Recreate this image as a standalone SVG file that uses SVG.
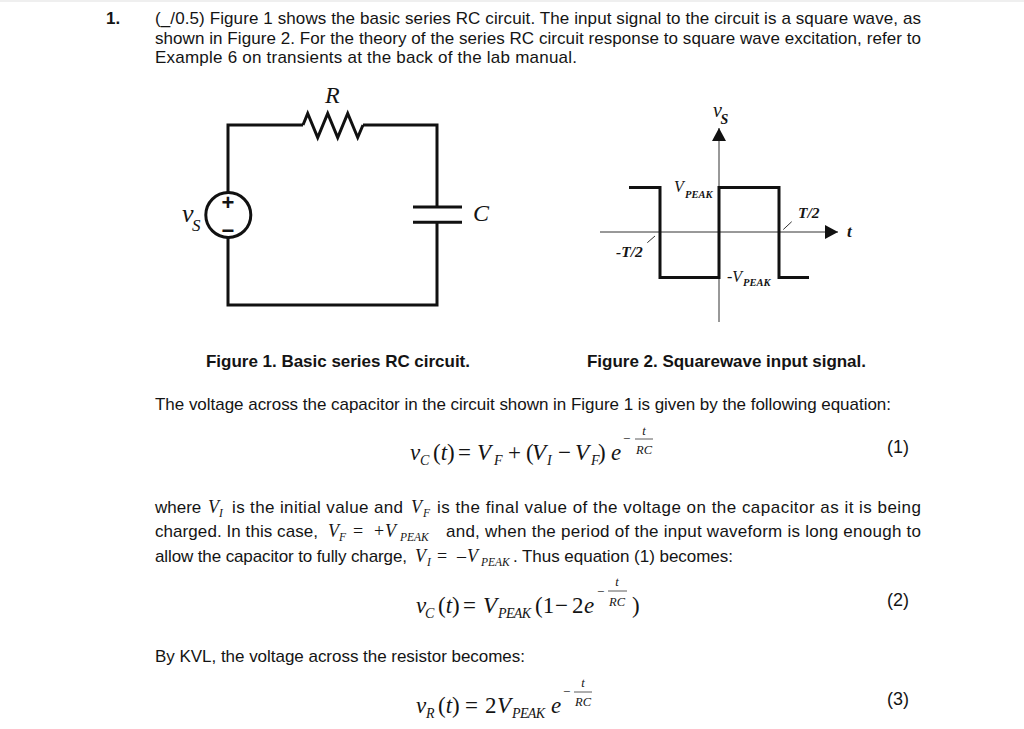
<svg xmlns="http://www.w3.org/2000/svg" width="1024" height="729" viewBox="0 0 1024 729">
<style>
text{fill:#141414;white-space:pre}
.b{font:17px "Liberation Sans",Arial,sans-serif}
.h{font:bold 17px "Liberation Sans",Arial,sans-serif}
.m{font:italic 18px "Liberation Serif","Times New Roman",serif}
.ms{font:italic 11.500px "Liberation Serif","Times New Roman",serif}
.n{font:18px "Liberation Serif","Times New Roman",serif}
.e{font:italic 23px "Liberation Serif","Times New Roman",serif}
.eu{font:23px "Liberation Serif","Times New Roman",serif}
.es{font:italic 14px "Liberation Serif","Times New Roman",serif}
.x{font:italic 12.500px "Liberation Serif","Times New Roman",serif}
.l{font:italic 26px "Liberation Serif","Times New Roman",serif}
.lb{font:italic bold 15.500px "Liberation Serif","Times New Roman",serif}
.ls{font:italic bold 10.500px "Liberation Serif","Times New Roman",serif}
.w{fill:none;stroke:#111;stroke-width:3;stroke-linejoin:miter}
.t{fill:none;stroke:#333;stroke-width:1}
.bar{stroke:#333;stroke-width:.8}
</style>
<defs>
<marker id="ah" markerUnits="userSpaceOnUse" markerWidth="14" markerHeight="14" refX="13" refY="7" orient="auto"><path d="M0 0L13 7L0 14Z" fill="#111"/></marker>
</defs>
<rect width="1024" height="729" fill="#fff"/>
<rect width="1024" height="2" fill="#efefef"/>
<g id="body-text">
<text class="h" x="106" y="24">1.</text>
<text class="b" x="155" y="24" textLength="766">(_/0.5) Figure 1 shows the basic series RC circuit. The input signal to the circuit is a square wave, as</text>
<text class="b" x="155" y="44" textLength="766">shown in Figure 2. For the theory of the series RC circuit response to square wave excitation, refer to</text>
<text class="b" x="155" y="63" textLength="422">Example 6 on transients at the back of the lab manual.</text>
<text class="h" x="206" y="367" textLength="264">Figure 1. Basic series RC circuit.</text>
<text class="h" x="587" y="367" textLength="279">Figure 2. Squarewave input signal.</text>
<text class="b" x="155" y="410" textLength="736">The voltage across the capacitor in the circuit shown in Figure 1 is given by the following equation:</text>
<text class="b" x="155" y="513">where</text><text class="m" x="208" y="513">V</text><text class="ms" x="219" y="517">I</text>
<text class="b" x="232" y="513" textLength="171">is the initial value and</text><text class="m" x="411" y="513">V</text><text class="ms" x="423" y="517">F</text>
<text class="b" x="437" y="513" textLength="484">is the final value of the voltage on the capacitor as it is being</text>
<text class="b" x="155" y="537" textLength="163">charged. In this case,</text><text class="m" x="328" y="537">V</text><text class="ms" x="339" y="541">F</text><text class="n" x="353" y="537">=</text><text class="n" x="374" y="537">+</text><text class="m" x="385" y="537">V</text><text class="ms" x="400" y="541">PEAK</text>
<text class="b" x="446" y="537" textLength="475">and, when the period of the input waveform is long enough to</text>
<text class="b" x="155" y="562" textLength="252">allow the capacitor to fully charge,</text><text class="m" x="415" y="562">V</text><text class="ms" x="427" y="566">I</text><text class="n" x="437" y="562">=</text><text class="n" x="457" y="562">–</text><text class="m" x="467" y="562">V</text><text class="ms" x="481" y="566">PEAK</text><text class="b" x="513" y="562">.</text>
<text class="b" x="522" y="562" textLength="211">Thus equation (1) becomes:</text>
<text class="b" x="155" y="662" textLength="370">By KVL, the voltage across the resistor becomes:</text>
<text class="b" x="887" y="453" style="font-size:18px">(1)</text>
<text class="b" x="887" y="606" style="font-size:18px">(2)</text>
<text class="b" x="887" y="705" style="font-size:18px">(3)</text>
</g>
<g id="connectors">
<path id="wire-top-left" class="w" d="M228 192V125H303"/>
<path id="wire-top-right" class="w" d="M363 125H437V207"/>
<path id="wire-bottom" class="w" d="M228 238V305H437V222"/>
<path id="x-axis" class="t" d="M600 232H838" marker-end="url(#ah)"/>
<path id="y-axis" class="t" d="M719 322V128" marker-end="url(#ah)"/>
<path id="wave" class="w" d="M629 187.500H660V277.500H719V187.500H779V277.500H809"/>
<path id="tick-pos" class="t" d="M783.300 229.500L791.700 221.700"/>
<path id="tick-neg" class="t" d="M647.300 242.700L655 236"/>
</g>
<g id="resistor">
<path class="w" d="M303 125L307.700 113.500L317.700 137.500L327.700 113.500L337.700 137.500L347.700 113.500L357.700 137.500L363 125"/>
<text class="l" x="325" y="103" style="font-size:24px">R</text>
</g>
<g id="source">
<circle class="w" cx="228.300" cy="215" r="22.500"/>
<text x="228" y="210" text-anchor="middle" style="font:bold 22px 'Liberation Sans',Arial,sans-serif">+</text>
<text x="228" y="238" text-anchor="middle" style="font:bold 22px 'Liberation Sans',Arial,sans-serif">−</text>
<text class="l" x="182" y="222">v</text>
<text class="e" x="192" y="231" style="font-size:17px">S</text>
</g>
<g id="capacitor">
<path class="w" d="M413 207H462M413 222.300H462"/>
<text class="l" x="473" y="221" style="font-size:24px">C</text>
</g>
<g id="signal-labels">
<text class="lb" x="713" y="117" style="font-size:20px;font-weight:normal">v</text>
<text class="lb" x="720.500" y="124" style="font-size:14px">S</text>
<text class="lb" x="674" y="192" style="font-size:16px;font-weight:normal">V</text>
<text class="ls" x="685" y="198">PEAK</text>
<text class="lb" x="798" y="218">T/2</text>
<text class="lb" x="616" y="257">-T/2</text>
<text class="lb" x="847" y="237" style="font-size:17px">t</text>
<text class="lb" x="727" y="282" style="font-size:16px;font-weight:normal">-V</text>
<text class="ls" x="743" y="286">PEAK</text>
</g>
<g id="equation-1">
<text class="e" x="410" y="460">v</text><text class="es" x="420" y="465">C</text><text class="eu" x="433" y="460">(<tspan class="e">t</tspan>)</text><text class="eu" x="458" y="460">=</text><text class="e" x="477" y="460">V</text><text class="es" x="494" y="465">F</text><text class="eu" x="508" y="460">+</text><text class="eu" x="526" y="460">(</text><text class="e" x="532" y="460">V</text><text class="es" x="547" y="465">I</text><text class="eu" x="558" y="460">−</text><text class="e" x="575" y="460">V</text><text class="es" x="591" y="465">F</text><text class="eu" x="598" y="460">)</text><text class="e" x="611" y="460">e</text>
<text class="n" x="623" y="443" style="font-size:13px">−</text><text class="x" x="644" y="435" text-anchor="middle">t</text><line class="bar" x1="635" y1="439" x2="653" y2="439"/><text class="x" x="644" y="454" text-anchor="middle">RC</text>
</g>
<g id="equation-2">
<text class="e" x="416" y="613">v</text><text class="es" x="425" y="618">C</text><text class="eu" x="438" y="613">(<tspan class="e">t</tspan>)</text><text class="eu" x="463" y="613">=</text><text class="e" x="483" y="613">V</text><text class="es" x="498" y="618" textLength="33">PEAK</text><text class="eu" x="535" y="613">(1</text><text class="eu" x="555" y="613">−</text><text class="eu" x="572" y="613">2</text><text class="e" x="584" y="613">e</text>
<text class="n" x="597" y="596" style="font-size:13px">−</text><text class="x" x="617" y="586" text-anchor="middle">t</text><line class="bar" x1="608" y1="591" x2="627" y2="591"/><text class="x" x="617" y="606" text-anchor="middle">RC</text><text class="eu" x="632" y="613">)</text>
</g>
<g id="equation-3">
<text class="e" x="416" y="713">v</text><text class="es" x="426" y="718">R</text><text class="eu" x="438" y="713">(<tspan class="e">t</tspan>)</text><text class="eu" x="465" y="713">=</text><text class="eu" x="485" y="713">2</text><text class="e" x="497" y="713">V</text><text class="es" x="512" y="718" textLength="33">PEAK</text><text class="e" x="551" y="713">e</text>
<text class="n" x="563" y="696" style="font-size:13px">−</text><text class="x" x="583" y="687" text-anchor="middle">t</text><line class="bar" x1="574" y1="692" x2="592" y2="692"/><text class="x" x="583" y="706" text-anchor="middle">RC</text>
</g>
</svg>
